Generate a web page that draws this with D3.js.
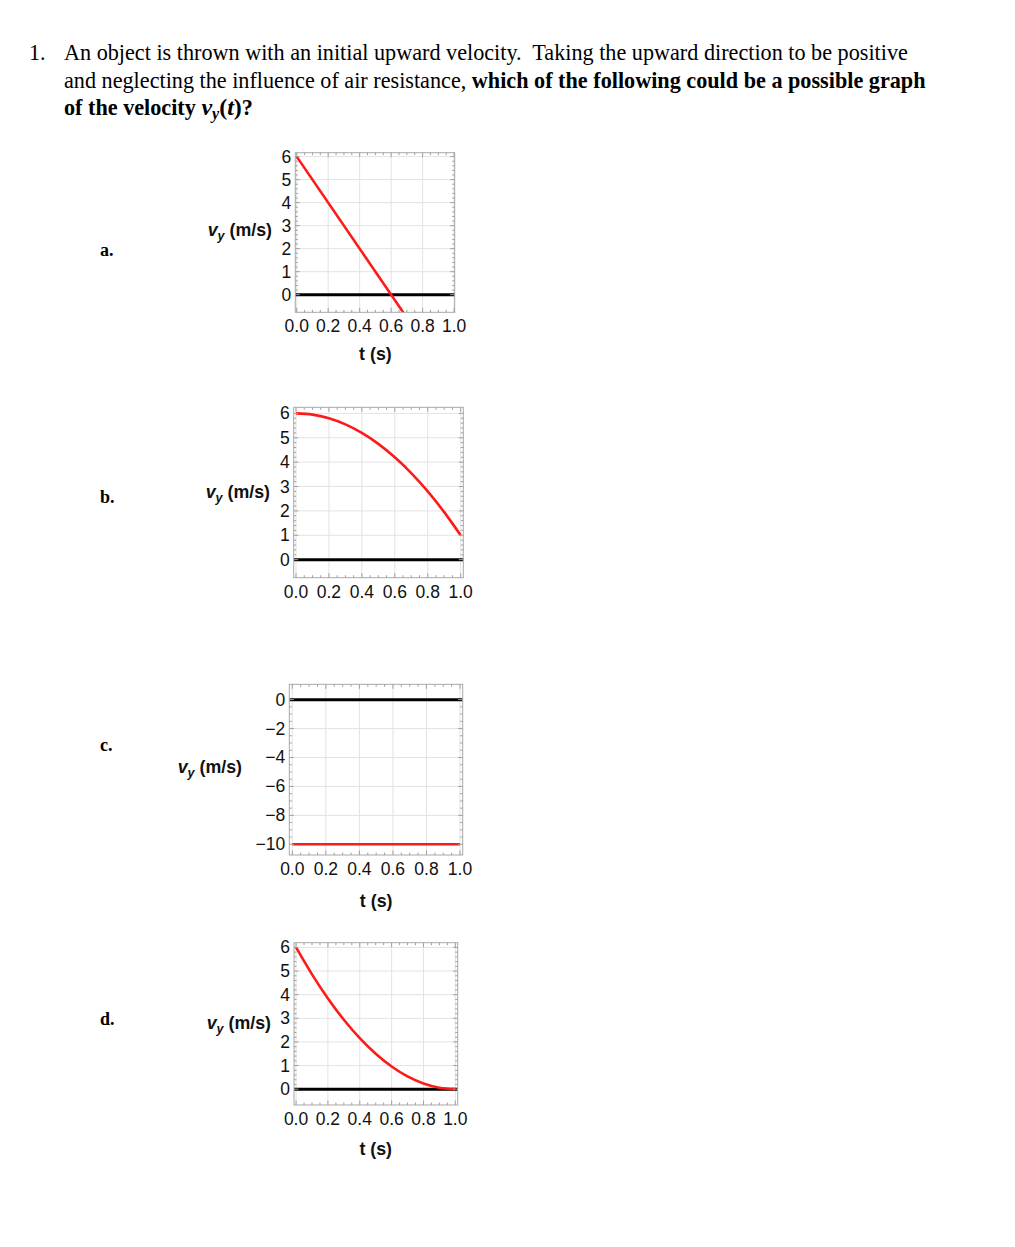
<!DOCTYPE html>
<html>
<head>
<meta charset="utf-8">
<script src="https://cdn.jsdelivr.net/npm/d3@7"></script>
<style>
  html, body { margin: 0; padding: 0; background: #fff; }
  svg { display: block; }
</style>
</head>
<body>
<svg id="page" width="1015" height="1247"></svg>
<script>
// ---------- DATA ----------
const optionLabels = ["a.", "b.", "c.", "d."];
const xTickValues = [0, 0.2, 0.4, 0.6, 0.8, 1.0];
const xTickLabels = ["0.0", "0.2", "0.4", "0.6", "0.8", "1.0"];
const yTicksPositive = [0, 1, 2, 3, 4, 5, 6];
const yTicksNegative = [0, -2, -4, -6, -8, -10];

// option a: straight line from 6 m/s, crossing zero at 0.6 s
const tA = [0, 1.0];
const vA = [6, -4];
// option b: concave-down curve, 6 -> 1
const tB = [0, 0.1, 0.2, 0.3, 0.4, 0.5, 0.6, 0.7, 0.8, 0.9, 1.0];
const vB = [6.0, 5.95, 5.8, 5.55, 5.2, 4.75, 4.2, 3.55, 2.8, 1.95, 1.0];
// option c: constant -10
const tC = [0, 1.0];
const vC = [-10, -10];
// option d: concave-up curve, 6 -> 0
const tD = [0, 0.1, 0.2, 0.3, 0.4, 0.5, 0.6, 0.7, 0.8, 0.9, 1.0];
const vD = [6.0, 4.86, 3.84, 2.94, 2.16, 1.5, 0.96, 0.54, 0.24, 0.06, 0.0];
// reference line
const zeroLine = [0, 0];

// ---------- LAYOUT ----------
const panels = [
  { label: optionLabels[0], labelY: 256, t: tA, v: vA, yTicks: yTicksPositive, yMinorStep: 0.2,
    frame: { x0: 295.3, x1: 454.7, y0: 152.7, y1: 312.3 }, xDom: [-0.009, 1.004], yDom: [-0.765, 6.17],
    yLab: { x: 272, y: 236 }, tLab: 360 },
  { label: optionLabels[1], labelY: 503, t: tB, v: vB, yTicks: yTicksPositive, yMinorStep: 0.2,
    frame: { x0: 293.7, x1: 463.3, y0: 407.3, y1: 577.7 }, xDom: [-0.014, 1.016], yDom: [-0.74, 6.25],
    yLab: { x: 270, y: 498 }, tLab: null },
  { label: optionLabels[2], labelY: 751, t: tC, v: vC, yTicks: yTicksNegative, yMinorStep: 0.5,
    frame: { x0: 289.3, x1: 462.7, y0: 684.3, y1: 855 }, xDom: [-0.018, 1.016], yDom: [-10.74, 1.06],
    yLab: { x: 242, y: 773 }, tLab: 907 },
  { label: optionLabels[3], labelY: 1025, t: tD, v: vD, yTicks: yTicksPositive, yMinorStep: 0.2,
    frame: { x0: 294, x1: 457.7, y0: 942.7, y1: 1105 }, xDom: [-0.013, 1.015], yDom: [-0.67, 6.2],
    yLab: { x: 271, y: 1029 }, tLab: 1155 }
];

const svg = d3.select("#page");
const serif = "'Liberation Serif','Times New Roman',Times,serif";
const sans = "'Liberation Sans',Arial,Helvetica,sans-serif";

// ---------- HEADER ----------
const head = svg.append("g").attr("font-family", serif).attr("font-size", 22.2).attr("fill", "#000");
head.append("text").attr("x", 29).attr("y", 60).text("1.");
head.append("text").attr("x", 64).attr("y", 60)
  .text("An object is thrown with an initial upward velocity.\u00A0 Taking the upward direction to be positive");
const l2 = head.append("text").attr("x", 64).attr("y", 88);
l2.append("tspan").text("and neglecting the influence of air resistance, ");
l2.append("tspan").attr("font-weight", "bold").text("which of the following could be a possible graph");
const l3 = head.append("text").attr("x", 64).attr("y", 115).attr("font-weight", "bold");
l3.append("tspan").text("of the velocity ");
l3.append("tspan").attr("font-style", "italic").attr("font-size", 24).text("v");
l3.append("tspan").attr("font-style", "italic").attr("font-size", 16).attr("dy", 4).text("y");
l3.append("tspan").attr("dy", -4).attr("font-size", 24).text("(");
l3.append("tspan").attr("font-style", "italic").attr("font-size", 24).text("t");
l3.append("tspan").attr("font-size", 24).text(")");
l3.append("tspan").text("?");

// ---------- PANELS ----------
panels.forEach((p, i) => {
  const g = svg.append("g");
  const f = p.frame;
  const x = d3.scaleLinear().domain(p.xDom).range([f.x0, f.x1]);
  const y = d3.scaleLinear().domain(p.yDom).range([f.y1, f.y0]);

  // option letter
  g.append("text").attr("x", 100).attr("y", p.labelY)
    .attr("font-family", serif).attr("font-weight", "bold").attr("font-size", 18)
    .text(p.label);

  const clipId = "clip" + i;
  g.append("clipPath").attr("id", clipId).append("rect")
    .attr("x", f.x0).attr("y", f.y0).attr("width", f.x1 - f.x0).attr("height", f.y1 - f.y0);

  // grid
  const grid = g.append("g").attr("stroke", "#e3e3e3").attr("stroke-width", 1);
  xTickValues.forEach(t => grid.append("line")
    .attr("x1", x(t)).attr("x2", x(t)).attr("y1", f.y0).attr("y2", f.y1));
  p.yTicks.forEach(v => grid.append("line")
    .attr("x1", f.x0).attr("x2", f.x1).attr("y1", y(v)).attr("y2", y(v)));

  // zero reference line (full frame width)
  g.append("path")
    .datum(p.xDom.map((t, k) => [t, zeroLine[k]]))
    .attr("d", d3.line().x(d => x(d[0])).y(d => y(d[1])))
    .attr("stroke", "#000").attr("stroke-width", 3).attr("fill", "none");

  // red series
  const pts = p.t.map((t, k) => [t, p.v[k]]);
  g.append("path").datum(pts)
    .attr("clip-path", `url(#${clipId})`)
    .attr("d", d3.line().x(d => x(d[0])).y(d => y(d[1])).curve(d3.curveMonotoneX))
    .attr("stroke", "#ff1a1a").attr("stroke-width", 2.6).attr("fill", "none");

  // frame
  g.append("rect").attr("x", f.x0).attr("y", f.y0)
    .attr("width", f.x1 - f.x0).attr("height", f.y1 - f.y0)
    .attr("fill", "none").attr("stroke", "#a8a8a8").attr("stroke-width", 1);

  // ticks (inward, all four sides)
  const tk = g.append("g").attr("stroke", "#a0a0a0").attr("stroke-width", 1);
  const xMinor = d3.range(0, 1.0001, 0.05);
  xMinor.forEach(t => {
    const major = xTickValues.some(m => Math.abs(m - t) < 1e-6);
    const L = major ? 4.5 : 2.5;
    tk.append("line").attr("x1", x(t)).attr("x2", x(t)).attr("y1", f.y1).attr("y2", f.y1 - L);
    tk.append("line").attr("x1", x(t)).attr("x2", x(t)).attr("y1", f.y0).attr("y2", f.y0 + L);
  });
  const yMin = d3.min(p.yTicks), yMax = d3.max(p.yTicks);
  d3.range(yMin, yMax + 1e-6, p.yMinorStep).forEach(v => {
    const major = p.yTicks.some(m => Math.abs(m - v) < 1e-6);
    const L = major ? 4.5 : 2.5;
    tk.append("line").attr("x1", f.x0).attr("x2", f.x0 + L).attr("y1", y(v)).attr("y2", y(v));
    tk.append("line").attr("x1", f.x1).attr("x2", f.x1 - L).attr("y1", y(v)).attr("y2", y(v));
  });

  // tick labels
  const lab = g.append("g").attr("font-family", sans).attr("font-size", 17.5).attr("fill", "#111");
  xTickValues.forEach((t, k) => lab.append("text")
    .attr("x", x(t)).attr("y", f.y1 + 20).attr("text-anchor", "middle").text(xTickLabels[k]));
  p.yTicks.forEach(v => lab.append("text")
    .attr("x", f.x0 - 4).attr("y", y(v) + 6).attr("text-anchor", "end")
    .text(v < 0 ? "\u2212" + Math.abs(v) : String(v)));

  // axis labels
  const yl = g.append("text").attr("x", p.yLab.x).attr("y", p.yLab.y)
    .attr("text-anchor", "end").attr("font-family", sans).attr("font-weight", "bold")
    .attr("font-size", 17.8).attr("fill", "#111");
  yl.append("tspan").attr("font-style", "italic").text("v");
  yl.append("tspan").attr("font-style", "italic").attr("font-size", 12.5).attr("dy", 4).text("y");
  yl.append("tspan").attr("dy", -4).text(" (m/s)");

  if (p.tLab !== null) {
    g.append("text").attr("x", (x(0) + x(1)) / 2).attr("y", p.tLab)
      .attr("text-anchor", "middle").attr("font-family", sans).attr("font-weight", "bold")
      .attr("font-size", 17.8).attr("fill", "#111").text("t (s)");
  }
});
</script>
</body>
</html>
